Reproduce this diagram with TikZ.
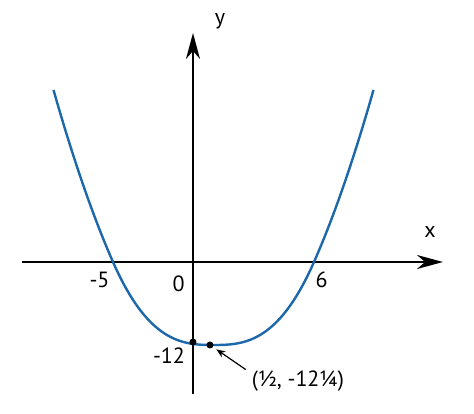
\documentclass[tikz,border=0pt]{standalone}
\usepackage{fontspec}
\setmainfont{PT Sans}
\usetikzlibrary{arrows.meta}
\definecolor{curveblue}{RGB}{28,104,170}
\begin{document}
\begin{tikzpicture}[x=1pt,y=1pt,
  lbl/.style={font=\fontsize{22}{24}\selectfont,inner sep=0pt},
  axis/.style={line width=1.8pt,-{Stealth[length=26pt,width=14pt,inset=8pt]}},
  pt/.style={circle,fill=black,inner sep=0pt,minimum size=7pt}]
\useasboundingbox[fill=white] (-193,-152) rectangle (281,262);
% axes
\coordinate (xl) at (-171,0);
\coordinate (xr) at (250,0);
\coordinate (yb) at (0,-132);
\coordinate (yt) at (0,229);
\draw[axis] (xl) -- (xr);
\draw[axis] (yb) -- (yt);
% curve
\draw[curveblue,line width=2.4pt,samples=60]
  plot[domain=59.5:0] ({-80-\x},{2.271*\x+0.01042*\x*\x})
  -- plot[domain=-1.005:1.005] ({20.5+100*\x},{81.87*(abs(\x)^2.75-1.01381)})
  -- plot[domain=0:59.5] ({121+\x},{2.271*\x+0.01042*\x*\x});
% marked points
\node[pt] (yint) at (0,-80) {};
\node[pt] (vertex) at (17,-83) {};
% labels
\node[lbl] (ylab) at (27,241) {y};
\node[lbl] (xlab) at (237,30) {x};
\node[lbl] (m5) at (-93.5,-18) {-5};
\node[lbl] (zero) at (-14.5,-21.5) {0};
\node[lbl] (six) at (128.5,-17.5) {6};
\node[lbl] (m12) at (-24,-94) {-12};
\node[lbl] (vlabel) at (105,-119) {(½, -12¼)};
\draw[line width=1.2pt,-{Stealth[length=9pt,width=7pt]},shorten >=4pt]
  ([xshift=-6pt,yshift=1pt]vlabel.north west) -- (vertex);
\end{tikzpicture}
\end{document}
